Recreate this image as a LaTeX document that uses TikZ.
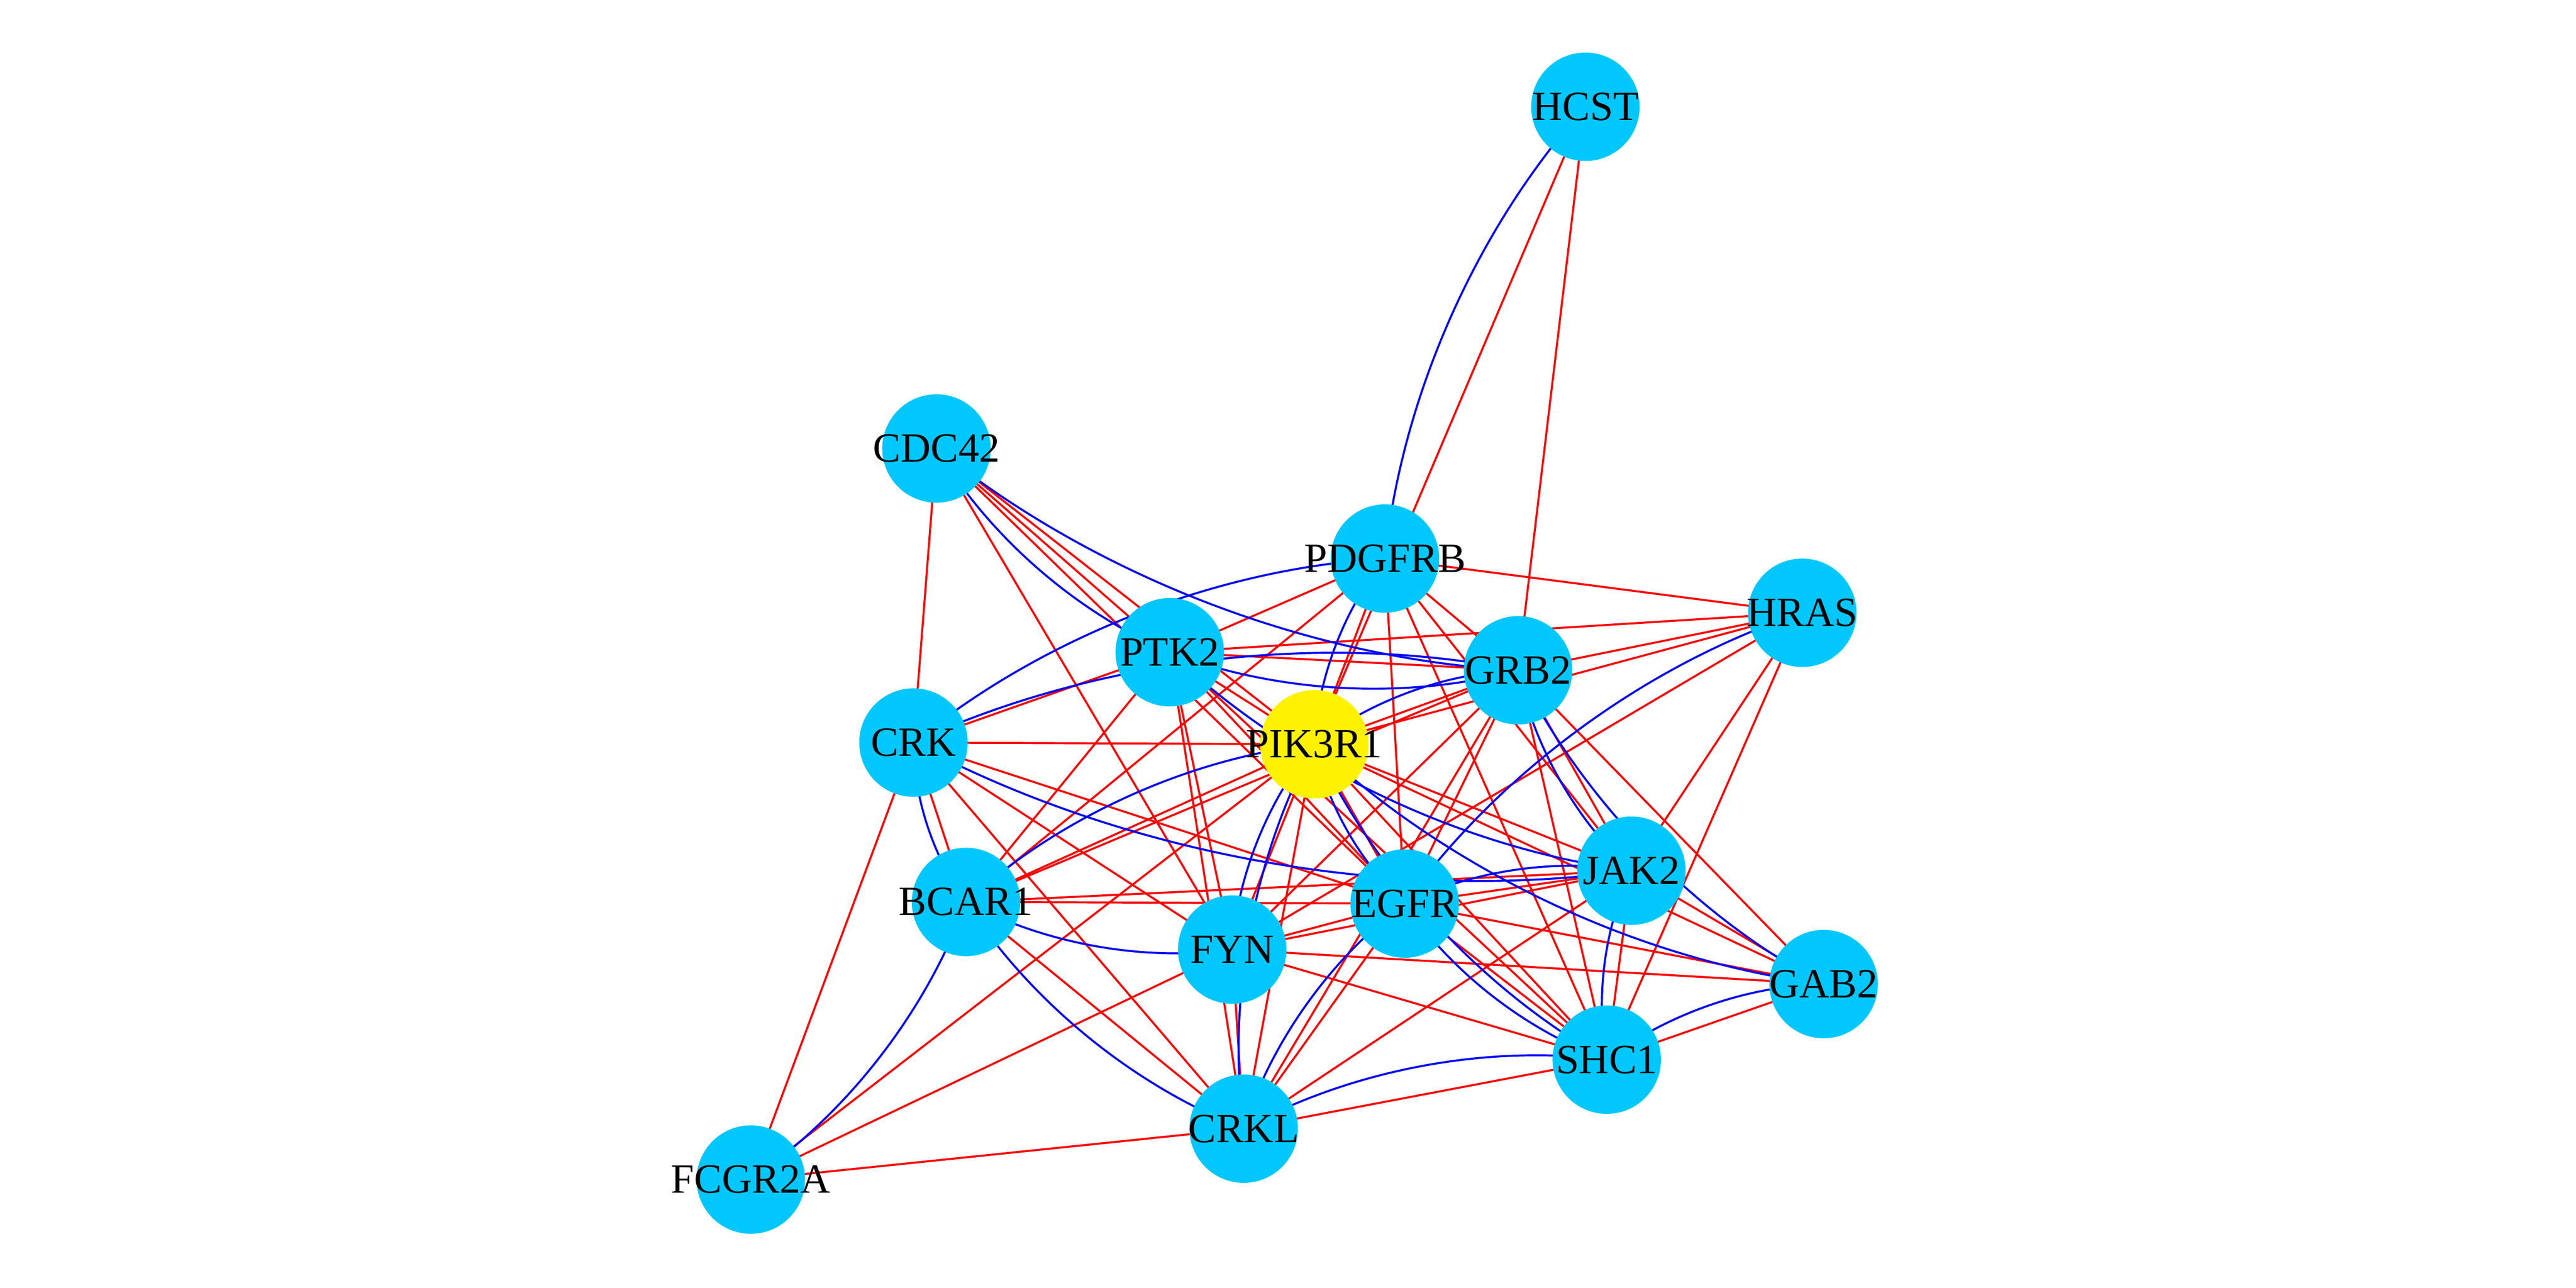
\documentclass[tikz,border=0pt]{standalone}
\usepackage{fontspec}
\setmainfont{Liberation Serif}
\usetikzlibrary{backgrounds,calc}
\begin{document}
\begin{tikzpicture}[x=0.1cm,y=-0.1cm,
  gene/.style={circle,fill={rgb,255:red,0;green,200;blue,255},minimum size=6.6cm,inner sep=0pt,
    label={[font=\fontsize{72}{74}\selectfont,inner sep=0pt]center:#1}},
  re/.style={draw=red,line width=3.5pt},
  bl/.style={draw=blue,line width=3.5pt}]
\useasboundingbox (0,0) rectangle (1568,784);
\node[gene=HCST] (HCST) at (965,65) {};
\node[gene=CDC42] (CDC42) at (570,273) {};
\node[gene=PDGFRB] (PDGFRB) at (843,340) {};
\node[gene=HRAS] (HRAS) at (1097,373) {};
\node[gene=PTK2] (PTK2) at (712,397) {};
\node[gene=GRB2] (GRB2) at (924,408) {};
\node[gene=CRK] (CRK) at (556,452) {};
\node[gene=PIK3R1,fill=yellow] (PIK3R1) at (800,453) {};
\node[gene=JAK2] (JAK2) at (993,530) {};
\node[gene=BCAR1] (BCAR1) at (588,549) {};
\node[gene=EGFR] (EGFR) at (855,550) {};
\node[gene=FYN] (FYN) at (750,578) {};
\node[gene=GAB2] (GAB2) at (1110,599) {};
\node[gene=SHC1] (SHC1) at (978,645) {};
\node[gene=CRKL] (CRKL) at (757,687) {};
\node[gene=FCGR2A] (FCGR2A) at (457,718) {};
\begin{pgfonlayer}{background}
\foreach \a/\b in {HCST/PIK3R1,HCST/GRB2,CDC42/CRK,CDC42/FYN,CDC42/PTK2,CDC42/PIK3R1,CDC42/EGFR,
 PDGFRB/HRAS,PDGFRB/PTK2,PDGFRB/GRB2,PDGFRB/PIK3R1,PDGFRB/SHC1,PDGFRB/JAK2,PDGFRB/BCAR1,PDGFRB/EGFR,
 HRAS/PTK2,HRAS/GRB2,HRAS/PIK3R1,HRAS/FYN,HRAS/SHC1,HRAS/JAK2,
 PTK2/CRK,PTK2/GRB2,PTK2/PIK3R1,PTK2/BCAR1,PTK2/FYN,PTK2/EGFR,PTK2/CRKL,PTK2/SHC1,
 GRB2/PIK3R1,GRB2/JAK2,GRB2/GAB2,GRB2/SHC1,GRB2/EGFR,GRB2/FYN,GRB2/CRKL,GRB2/BCAR1,
 CRK/PIK3R1,CRK/BCAR1,CRK/FYN,CRK/EGFR,CRK/FCGR2A,CRK/CRKL,
 PIK3R1/EGFR,PIK3R1/FYN,PIK3R1/JAK2,PIK3R1/SHC1,PIK3R1/GAB2,PIK3R1/BCAR1,PIK3R1/CRKL,PIK3R1/FCGR2A,
 JAK2/EGFR,JAK2/FYN,JAK2/SHC1,JAK2/GAB2,JAK2/CRKL,JAK2/BCAR1,
 BCAR1/CRKL,BCAR1/EGFR,EGFR/FYN,EGFR/SHC1,EGFR/GAB2,EGFR/CRKL,
 FYN/CRKL,FYN/SHC1,FYN/FCGR2A,FYN/GAB2,GAB2/SHC1,SHC1/CRKL,CRKL/FCGR2A}
 \draw[re] (\a.center) -- (\b.center);
\foreach \a/\b in {HCST/PDGFRB,CDC42/GRB2,CDC42/PTK2,PDGFRB/CRK,PDGFRB/PIK3R1,PTK2/GRB2,PTK2/JAK2,
 GRB2/PIK3R1,GRB2/CRK,GRB2/JAK2,GRB2/GAB2,CRK/BCAR1,CRK/JAK2,HRAS/EGFR,
 PIK3R1/EGFR,PIK3R1/FYN,PIK3R1/SHC1,PIK3R1/GAB2,PIK3R1/BCAR1,PIK3R1/CRKL,
 JAK2/EGFR,JAK2/SHC1,BCAR1/FYN,BCAR1/CRKL,FCGR2A/BCAR1,EGFR/SHC1,EGFR/CRKL,GAB2/SHC1,SHC1/CRKL}
 \draw[bl] (\a.center) .. controls ($(\a.center)!0.33!-18:(\b.center)$) and ($(\b.center)!0.33!18:(\a.center)$) .. (\b.center);
\end{pgfonlayer}
\end{tikzpicture}
\end{document}
